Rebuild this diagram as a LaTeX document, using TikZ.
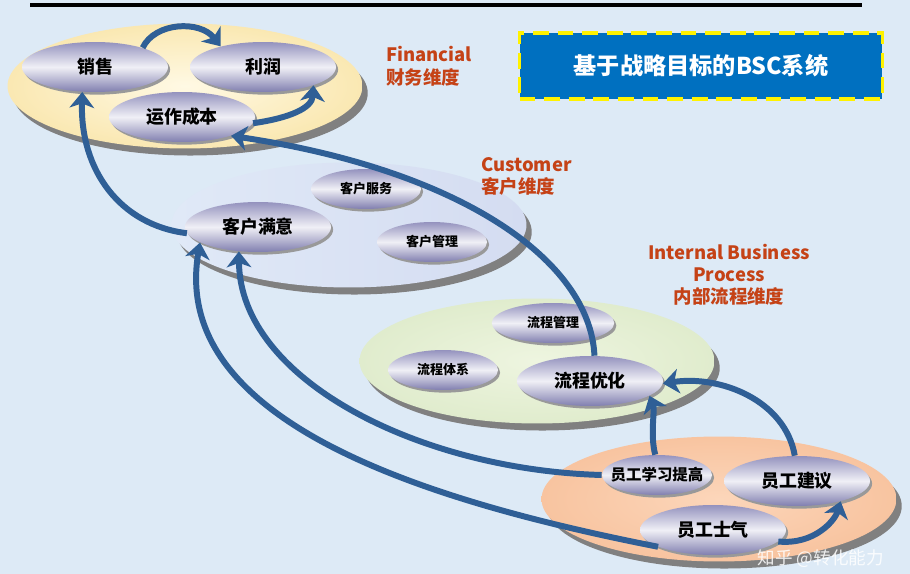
\documentclass[tikz,border=0pt]{standalone}
\usepackage{fontspec}
\newfontfamily\cjk{Noto Sans CJK SC}
\usetikzlibrary{shapes.geometric,arrows.meta}

\definecolor{bgBlue}{RGB}{221,234,246}
\definecolor{titleBlue}{RGB}{0,112,192}
\definecolor{flowBlue}{RGB}{47,95,150}
\definecolor{labelRed}{RGB}{197,66,22}
\definecolor{shadowGray}{RGB}{128,128,128}
\definecolor{finIn}{RGB}{255,249,228}
\definecolor{finOut}{RGB}{250,232,178}
\definecolor{custL}{RGB}{224,233,247}
\definecolor{custR}{RGB}{212,220,241}
\definecolor{procIn}{RGB}{238,245,224}
\definecolor{procOut}{RGB}{224,236,205}
\definecolor{learnIn}{RGB}{252,214,186}
\definecolor{learnOut}{RGB}{248,196,160}
\definecolor{bubbleTop}{RGB}{148,146,190}
\definecolor{bubbleMid}{RGB}{240,240,246}
\definecolor{bubbleBot}{RGB}{128,126,175}

\tikzset{
	layer/.style={ellipse, inner sep=0pt, minimum width=7.1cm, minimum height=2.5cm,
		preaction={fill=shadowGray, transform canvas={xshift=3pt, yshift=-4pt}}},
	bubble/.style={ellipse, inner sep=0pt, top color=bubbleTop, bottom color=bubbleBot, middle color=bubbleMid,
		preaction={fill=shadowGray!80, transform canvas={xshift=1.2pt, yshift=-1.5pt}},
		font=\cjk\bfseries\fontsize{10.2}{12}\selectfont},
	bigBubble/.style={bubble, minimum width=2.92cm, minimum height=1cm},
	smallBubble/.style={bubble, minimum width=2.2cm, minimum height=0.8cm, font=\cjk\bfseries\fontsize{7.4}{9}\selectfont},
	levelLabel/.style={text=labelRed, font=\cjk\bfseries\fontsize{10.5}{12.8}\selectfont},
	flow/.style={line width=3.4pt, draw=flowBlue, -{Stealth[length=9pt, width=14pt, inset=2.5pt]}},
}

\begin{document}
\begin{tikzpicture}[x=0.02cm, y=-0.02cm]
	\useasboundingbox[fill=bgBlue] (0,0) rectangle (910,574);

	% title
	\draw[line width=1.9pt] (30,5) -- (862,5);
	\node[rectangle, fill=titleBlue, draw=yellow, dashed, dash pattern=on 9pt off 5pt, line width=1.8pt, minimum width=7.26cm, minimum height=1.32cm, text=white, font=\cjk\bfseries\fontsize{13.2}{15}\selectfont](titleBox) at (701,66){基于战略目标的BSC系统};

	% layers
	\node[layer, inner color=finIn, outer color=finOut](finBox) at (185,86){};
	\node[layer, left color=custL, right color=custR](custBox) at (349,225){};
	\node[layer, inner color=procIn, outer color=procOut](procBox) at (537,361){};
	\node[layer, inner color=learnIn, outer color=learnOut](learnBox) at (719,499){};

	\node[levelLabel, anchor=north west, align=left](finLabel) at (380,40){Financial\\财务维度};
	\node[levelLabel, anchor=north west, align=left](custLabel) at (475,151){Customer\\客户维度};
	\node[levelLabel, anchor=north, align=center, font=\cjk\bfseries\fontsize{10.5}{12.4}\selectfont](procLabel) at (729,238){Internal Business\\Process\\内部流程维度};

	% financial
	\node[bigBubble](sales) at (95,67){销售};
	\node[bigBubble](profit) at (263,67){利润};
	\node[bigBubble](cost) at (182,117){运作成本};

	% customer
	\node[smallBubble](service) at (366,189){客户服务};
	\node[bigBubble](satisf) at (258,227){客户满意};
	\node[smallBubble](custMgmt) at (432,242){客户管理};

	% internal process
	\node[smallBubble, minimum width=2.45cm](procMgmt) at (553,323){流程管理};
	\node[smallBubble](procSys) at (443,370){流程体系};
	\node[bigBubble](procOpt) at (590,381){流程优化};

	% learning
	\node[smallBubble, inner xsep=-5pt, font=\cjk\bfseries\fontsize{8.8}{10}\selectfont](learn) at (657,475){员工学习提高};
	\node[bigBubble](suggest) at (797,481){员工建议};
	\node[bigBubble](morale) at (713,530){员工士气};

	% draw financial edges
	\draw[flow] (sales.22) .. controls (155,22) and (200,20) .. (profit.154);
	\draw[flow] (cost.-5) .. controls (290,118) and (312,108) .. (profit.-20);

	% draw customer edges
	\draw[flow] (satisf.185) .. controls (120,225) and (80,170) .. (sales.-117);
	\draw[flow] (procOpt.80) .. controls (590,260) and (460,170) .. (cost.-21);

	% draw process edges
	\draw[flow] (learn.95) .. controls (650,435) and (655,410) .. (procOpt.-14);
	\draw[flow] (suggest.95) .. controls (785,400) and (720,375) .. (procOpt.-2);
	\draw[flow] (morale.-10) .. controls (815,545) and (835,520) .. (suggest.-25);

	% draw learning edges
	\draw[flow] (learn.180) .. controls (420,470) and (240,380) .. (satisf.-128);
	\draw[flow] (morale.-163) .. controls (420,500) and (170,420) .. (satisf.-165);

	% watermark
	\node[text=white, opacity=0.85, anchor=south east, font=\cjk\fontsize{10}{11}\selectfont](mark) at (890,574){知乎 @转化能力};
\end{tikzpicture}
\end{document}
